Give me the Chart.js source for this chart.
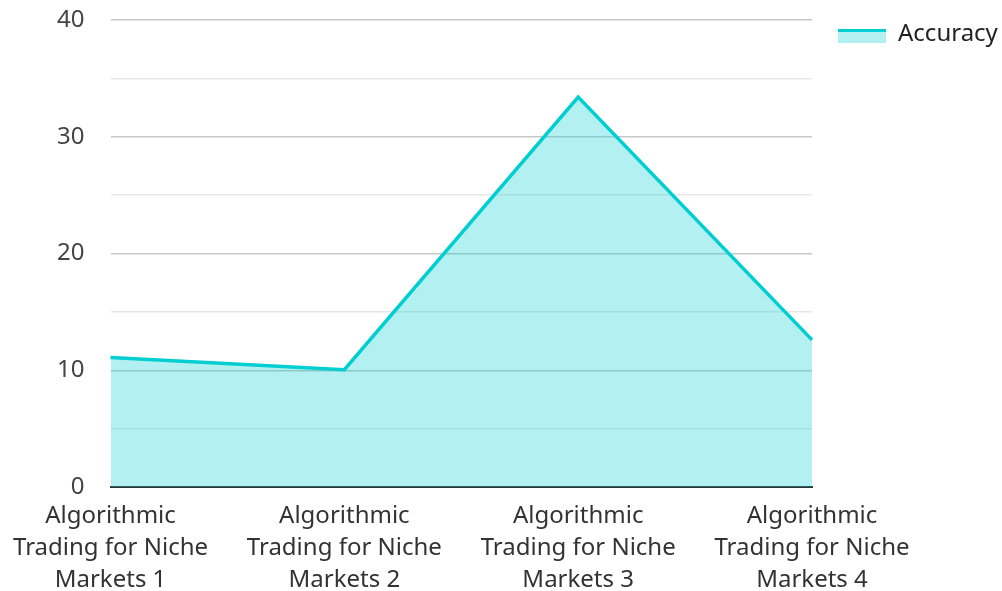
<!DOCTYPE html>
<html>
<head>
<meta charset="utf-8">
<script src="https://cdn.jsdelivr.net/npm/chart.js@4.4.1/dist/chart.umd.min.js"></script>
<style>
  html, body { margin: 0; padding: 0; background: #fff; }
  #wrap { width: 1002px; height: 591px; position: relative; }
</style>
</head>
<body>
<div id="wrap"><canvas id="accChart"></canvas></div>
<script>
const categories = [
    ['Algorithmic', 'Trading for Niche', 'Markets 1'],
    ['Algorithmic', 'Trading for Niche', 'Markets 2'],
    ['Algorithmic', 'Trading for Niche', 'Markets 3'],
    ['Algorithmic', 'Trading for Niche', 'Markets 4'],
];
const accuracy = [11.1, 10.05, 33.4, 12.6];
const yTicks = [0, 10, 20, 30, 40];

const lineColor = '#00CED1';
const fillColor = 'rgba(0, 206, 209, 0.3)';

// legend swatch: filled box with a thick line on top (left margin keeps it off the plot)
const swatch = document.createElement('canvas');
swatch.width = 72;
swatch.height = 18;
const sctx = swatch.getContext('2d');
sctx.fillStyle = fillColor;
sctx.fillRect(24, 4, 48, 14);
sctx.fillStyle = lineColor;
sctx.fillRect(24, 4, 48, 3);

Chart.defaults.font.family = '"Noto Sans", sans-serif';
Chart.defaults.font.size = 24;

const ctx = document.getElementById('accChart').getContext('2d');

new Chart(ctx, {
    type: 'line',
    data: {
        labels: categories,
        datasets: [{
            label: 'Accuracy',
            data: accuracy,
            borderColor: lineColor,
            backgroundColor: fillColor,
            borderWidth: 3.5,
            fill: 'origin',
            tension: 0,
            pointRadius: 0,
            pointHoverRadius: 0,
        }],
    },
    options: {
        responsive: true,
        maintainAspectRatio: false,
        animation: false,
        layout: {
            padding: { top: 20, right: 0, bottom: 0, left: 0 },
        },
        plugins: {
            legend: {
                position: 'right',
                align: 'start',
                maxWidth: 190,
                labels: {
                    usePointStyle: true,
                    pointStyle: swatch,
                    pointStyleWidth: 72,
                    boxHeight: 14,
                    padding: 2,
                    color: '#222',
                    font: { size: 24 },
                },
            },
            tooltip: { enabled: false },
        },
        scales: {
            x: {
                offset: false,
                afterFit: scale => {
                    scale.height = 104;
                    scale.paddingRight = 190;
                },
                grid: { color: 'transparent', drawTicks: false },
                border: { display: true, color: '#333', width: 2 },
                ticks: {
                    color: '#333',
                    padding: 13,
                    maxRotation: 0,
                    autoSkip: false,
                    font: { size: 24, lineHeight: 1.333 },
                },
            },
            y: {
                min: 0,
                max: 40,
                afterFit: scale => {
                    scale.width = 110;
                    scale.paddingTop = 0;
                    scale.paddingBottom = 0;
                },
                grid: {
                    drawTicks: false,
                    color: c => (c.tick && c.tick.value % 10 === 0) ? '#c8c8c8' : '#e8e8e8',
                    lineWidth: 1.5,
                },
                border: { display: false },
                ticks: {
                    stepSize: 5,
                    color: '#444',
                    padding: 26,
                    font: { size: 24 },
                    callback: v => yTicks.includes(v) ? v : '',
                },
            },
        },
    },
});
</script>
</body>
</html>
